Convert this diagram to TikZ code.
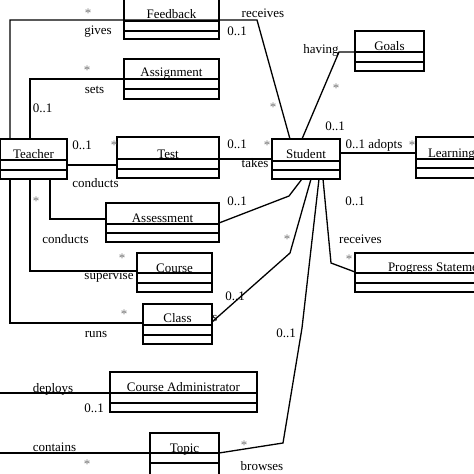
\documentclass[tikz,border=0pt]{standalone}
\usepackage{fontspec}
\setmainfont{Liberation Serif}
\usetikzlibrary{fit}
\tikzset{
  umlbox/.style={draw, line width=1.3pt, inner sep=0pt, outer sep=0pt},
  conn/.style={line width=1.3pt},
  lbl/.style={anchor=base, inner sep=0pt, outer sep=0pt},
  lblw/.style={anchor=base west, inner sep=0pt, outer sep=0pt},
  mult/.style={lbl, text=black!55},
}
\newcommand\umlclass[7]{%
  \node[umlbox, fit={(#2,#3) (#4,#5)}] (#1) {};
  \draw[conn] (#2,#6) -- (#4,#6) (#2,#7) -- (#4,#7);
}
\begin{document}
\begin{tikzpicture}[x=1pt, y=-1pt, font=\fontsize{13}{15}\selectfont]
\useasboundingbox (0,0) rectangle (474,474);
\clip (0,0) rectangle (474,474);
\fill[white] (0,0) rectangle (474,474);

% classes
\umlclass{feedback}{124}{-2}{219}{39}{21}{31}
\umlclass{assignment}{124}{59}{219}{99}{79}{89}
\umlclass{teacher}{0}{139}{67}{179}{160}{170}
\umlclass{test}{117}{137}{219}{178}{159}{169}
\umlclass{student}{272}{139}{340}{179}{161}{170}
\umlclass{goals}{355}{31}{424}{71}{52}{62}
\umlclass{learning}{416}{137}{510}{178}{159}{168}
\umlclass{assessment}{106}{203}{219}{242}{224}{233}
\umlclass{course}{137}{253}{212}{292}{273}{283}
\umlclass{class}{143}{304}{212}{344}{325}{335}
\umlclass{progress}{355}{253}{530}{292}{273}{283}
\umlclass{ca}{110}{372}{257}{412}{393}{403}
\umlclass{topic}{150}{433}{219}{490}{453}{463}

% class names
\node[lbl] (tFeedback) at (171.5,18) {Feedback};
\node[lbl] (tAssignment) at (171.5,76) {Assignment};
\node[lbl] (tTeacher) at (33.5,158) {Teacher};
\node[lbl] (tTest) at (168,158) {Test};
\node[lbl] (tStudent) at (306,158) {Student};
\node[lbl] (tGoals) at (389.5,50) {Goals};
\node[lblw] (tLearning) at (428,157) {Learning};
\node[lbl] (tAssessment) at (162.5,222) {Assessment};
\node[lbl] (tCourse) at (174.5,272) {Course};
\node[lbl] (tClass) at (177.5,322) {Class};
\node[lblw] (tProgress) at (388,271) {Progress Statement};
\node[lbl] (tCA) at (183.5,391) {Course Administrator};
\node[lbl] (tTopic) at (184.5,452) {Topic};

% connector bend points
\coordinate (fbA) at (10,20);
\coordinate (fbB) at (257,20);
\coordinate (fbC) at (290,139);
\coordinate (asA) at (30,79);
\coordinate (tcA) at (0,165);
\coordinate (tsA) at (0,159);
\coordinate (aeA) at (50,219);
\coordinate (coA) at (30,271);
\coordinate (clA) at (10,323);
\coordinate (goA) at (302,0);
\coordinate (goB) at (339,52);
\coordinate (leA) at (0,153);
\coordinate (saA) at (302,0);
\coordinate (saB) at (289,196);
\coordinate (saC) at (0,223);
\coordinate (scA) at (311,0);
\coordinate (scB) at (290,253);
\coordinate (scC) at (0,322);
\coordinate (stA) at (319,0);
\coordinate (stB) at (302,328);
\coordinate (stC) at (283,443);
\coordinate (stD) at (0,453);
\coordinate (spA) at (323,0);
\coordinate (spB) at (331,263);
\coordinate (spC) at (0,272);
\coordinate (lA) at (0,393);
\coordinate (lB) at (0,453);

% connectors
\draw[conn] (teacher.north -| fbA) -- (fbA) -- (fbB) -- (student.north -| fbC);
\draw[conn] (teacher.north -| asA) -- (asA) -- (assignment.west |- asA);
\draw[conn] (teacher.east |- tcA) -- (test.west |- tcA);
\draw[conn] (test.east |- tsA) -- (student.west |- tsA);
\draw[conn] (teacher.south -| aeA) -- (aeA) -- (assessment.west |- aeA);
\draw[conn] (teacher.south -| coA) -- (coA) -- (course.west |- coA);
\draw[conn] (teacher.south -| clA) -- (clA) -- (class.west |- clA);
\draw[conn] (student.north -| goA) -- (goB) -- (goals.west |- goB);
\draw[conn] (student.east |- leA) -- (learning.west |- leA);
\draw[conn] (student.south -| saA) -- (saB) -- (assessment.east |- saC);
\draw[conn] (student.south -| scA) -- (scB) -- (class.east |- scC);
\draw[conn] (student.south -| stA) -- (stB) -- (stC) -- (topic.east |- stD);
\draw[conn] (student.south -| spA) -- (spB) -- (progress.west |- spC);
\draw[conn] (lA) -- (ca.west |- lA);
\draw[conn] (lB) -- (topic.west |- lB);

% association labels
\node[mult] (m1) at (88,17) {*};
\node[lbl] (a1) at (98,34) {gives};
\node[lbl] (a2) at (263,17) {receives};
\node[lbl] (m2) at (237,35) {0..1};
\node[mult] (m3) at (273,111) {*};
\node[lbl] (a3) at (321,53) {having};
\node[mult] (m4) at (336,92) {*};
\node[lbl] (m5) at (335,130) {0..1};
\node[lbl] (m6) at (237,148) {0..1};
\node[mult] (m7) at (267,149) {*};
\node[lbl] (a4) at (374,148) {0..1 adopts};
\node[mult] (m8) at (412,149) {*};
\node[lbl] (m9) at (82,149) {0..1};
\node[mult] (m10) at (114,149) {*};
\node[lbl] (a5) at (95.5,187) {conducts};
\node[lbl] (a6) at (255,167) {takes};
\node[mult] (m11) at (36,205) {*};
\node[lbl] (a7) at (65.5,243) {conducts};
\node[lbl] (m12) at (237,205) {0..1};
\node[lbl] (m13) at (355,205) {0..1};
\node[mult] (m14) at (287,243) {*};
\node[lbl] (a8) at (360.5,243) {receives};
\node[mult] (m15) at (349,263) {*};
\node[mult] (m16) at (122,262) {*};
\node[lbl] (a9) at (109,279) {supervise};
\node[mult] (m17) at (124,318) {*};
\node[lbl] (a10) at (96,337) {runs};
\node[lbl] (a11) at (215,321) {s};
\node[lbl] (m18) at (235,300) {0..1};
\node[lbl] (m19) at (286,337) {0..1};
\node[lbl] (a12) at (53,392) {deploys};
\node[lbl] (m20) at (94,412) {0..1};
\node[lbl] (a13) at (54.5,451) {contains};
\node[mult] (m21) at (87,468) {*};
\node[mult] (m22) at (244,449) {*};
\node[lbl] (a14) at (262,470) {browses};
\node[mult] (m23) at (87,74) {*};
\node[lbl] (a15) at (94.5,93) {sets};
\node[lbl] (m24) at (42.5,112) {0..1};
\end{tikzpicture}
\end{document}
